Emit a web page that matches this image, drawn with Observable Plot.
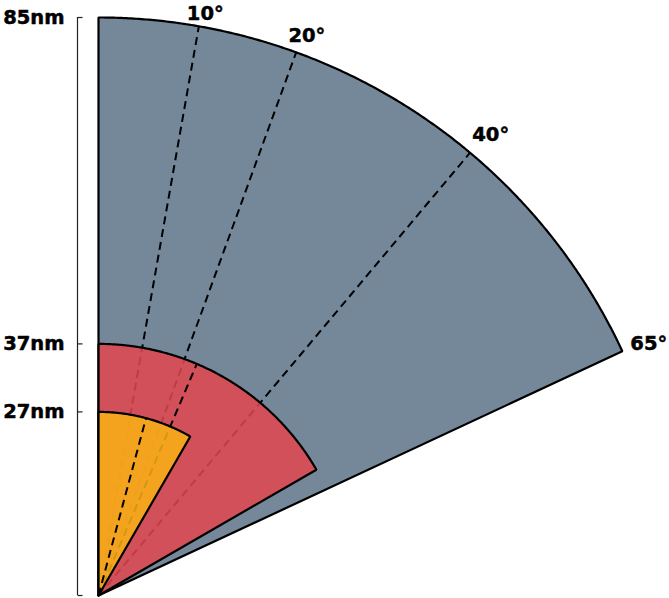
<!DOCTYPE html>
<html><head><meta charset="utf-8">
<script src="https://cdn.jsdelivr.net/npm/d3@7"></script>
<script src="https://cdn.jsdelivr.net/npm/@observablehq/plot@0.6"></script>
<style>body{margin:0;background:#fff}</style>
</head><body><div id="chart"></div>
<script>
// Data
const sectorRanges = [85, 37, 27];          // nm
const sectorSpans = [65, 60, 30];           // degrees
const sectorColors = ["#74889a", "#e3474d", "#f9b114"];
const sectorOpacity = [1, 0.85, 0.85];
const sectorGuides = [[10, 20, 40], [23], [15]];
const angleLabelValues = [10, 20, 40, 65];
const angleLabelTexts = ["10°", "20°", "40°", "65°"];
const rangeTickValues = [0, 27, 37, 85];
const rangeTickLabels = ["", "27nm", "37nm", "85nm"];

// Layout
const W = 669, H = 598;
const mTop = 17, mBottom = 3;
const k = (H - mTop - mBottom) / 85;   // px per nm
const originPx = 98;
const xDomain = [-originPx / k, (W - originPx) / k];
const axisX = -21 / k;
const tickLen = 5 / k;
const rad = d => d * Math.PI / 180;
const polar = (r, a) => ({x: r * Math.sin(rad(a)), y: r * Math.cos(rad(a))});
const labelPos = a => polar(Math.min(89.0, 86.1 + a * 0.09), a + 0.4);

const marks = [];
sectorRanges.forEach((r, i) => {
  const pts = [polar(0, 0)];
  for (let a = 0; a < sectorSpans[i]; a += 0.25) pts.push(polar(r, a));
  pts.push(polar(r, sectorSpans[i]), polar(0, 0));
  marks.push(Plot.line(pts, {
    x: "x", y: "y", fill: sectorColors[i], fillOpacity: sectorOpacity[i],
    stroke: "black", strokeWidth: 2.2, strokeLinejoin: "miter", curve: "linear"
  }));
  const guides = sectorGuides[i].map(a => ({x2: polar(r, a).x, y2: polar(r, a).y}));
  marks.push(Plot.link(guides, {
    x1: () => 0, y1: () => 0, x2: "x2", y2: "y2",
    stroke: "black", strokeWidth: 2, strokeDasharray: "8,5"
  }));
});

const textStyle = {fontSize: 19.5, fontWeight: "bold", fontFamily: "DejaVu Sans", fill: "black", stroke: "black", strokeWidth: 0.5};

marks.push(Plot.text(angleLabelValues, {
  x: a => labelPos(a).x, y: a => labelPos(a).y,
  text: (d, i) => angleLabelTexts[i], ...textStyle
}));

// Range axis
marks.push(Plot.ruleX([axisX], {x: d => d, y1: () => 0, y2: () => 85, stroke: "#222", strokeWidth: 1.2}));
marks.push(Plot.link(rangeTickValues, {
  x1: () => axisX, x2: () => axisX + tickLen, y1: d => d, y2: d => d, stroke: "#222", strokeWidth: 1.2
}));
marks.push(Plot.text(rangeTickValues, {
  x: () => axisX, y: d => d, text: (d, i) => rangeTickLabels[i],
  textAnchor: "end", dx: -13, ...textStyle
}));

const chart = Plot.plot({
  width: W, height: H,
  marginTop: mTop, marginBottom: mBottom, marginLeft: 0, marginRight: 0,
  x: {domain: xDomain, axis: null},
  y: {domain: [0, 85], axis: null},
  style: {background: "#fff", overflow: "visible"},
  marks
});
document.getElementById("chart").appendChild(chart);
</script>
</body></html>
